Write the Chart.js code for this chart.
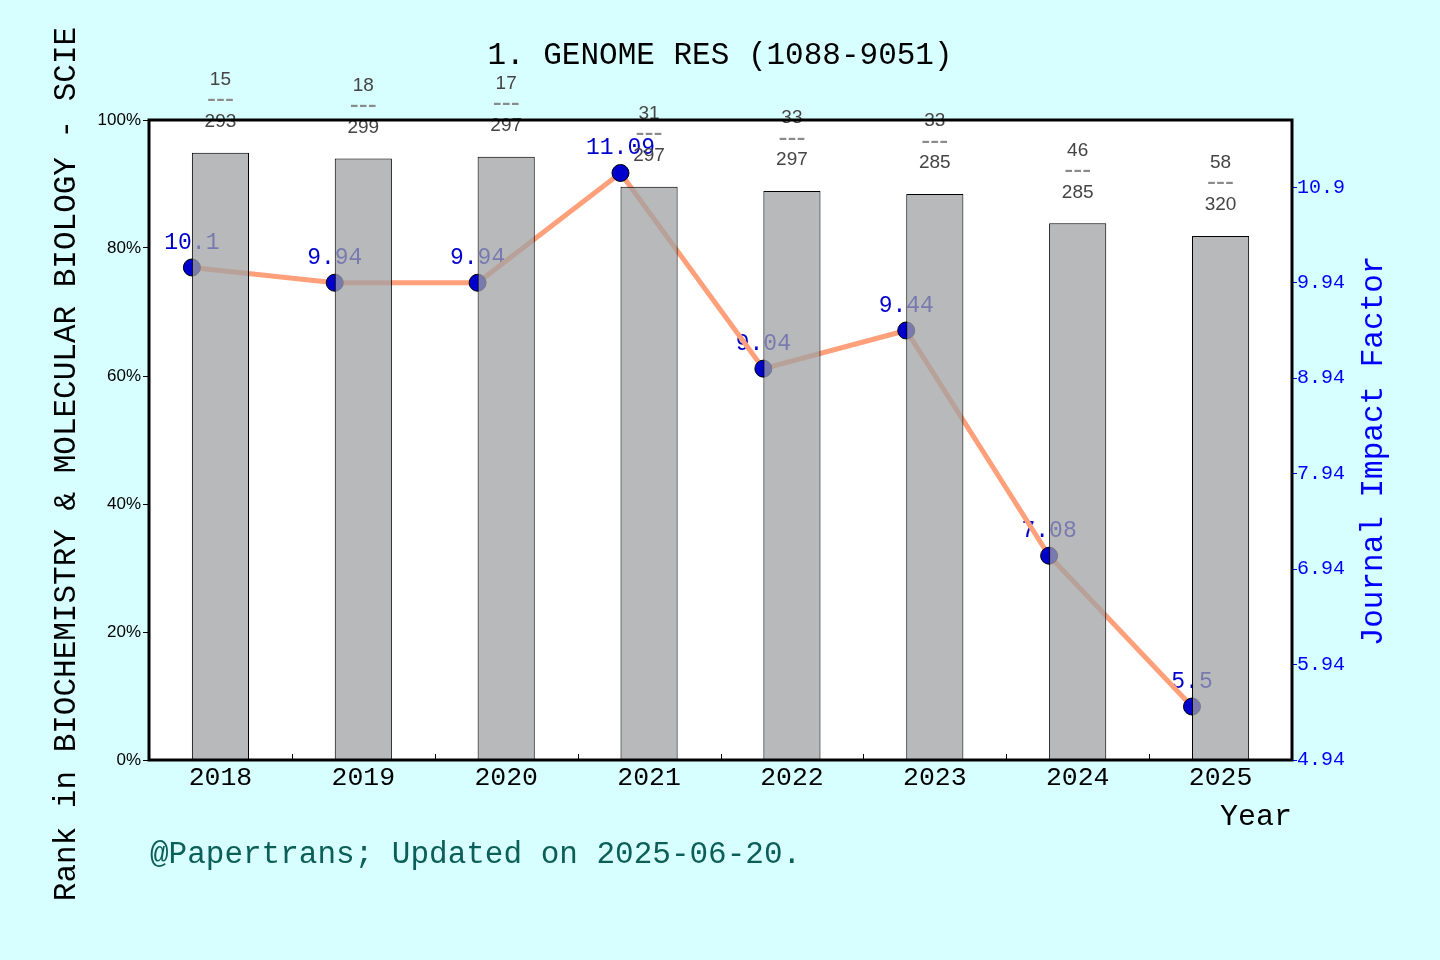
<!DOCTYPE html>
<html>
<head>
<meta charset="utf-8">
<script src="https://cdn.jsdelivr.net/npm/chart.js@4"></script>
<style>
  html, body { margin: 0; padding: 0; background: #d8ffff; }
  canvas { display: block; }
</style>
</head>
<body>
<canvas id="jcr" width="1440" height="960"></canvas>
<script>
// data
var years = ['2018', '2019', '2020', '2021', '2022', '2023', '2024', '2025']
var ranks = [15, 18, 17, 31, 33, 33, 46, 58]
var totals = [293, 299, 297, 297, 297, 285, 285, 320]
var impactFactor = [10.1, 9.94, 9.94, 11.09, 9.04, 9.44, 7.08, 5.5]
var rightTicks = [4.94, 5.94, 6.94, 7.94, 8.94, 9.94, 10.94]
var rightTickLabels = ['4.94', '5.94', '6.94', '7.94', '8.94', '9.94', '10.9']
var leftTicks = [0, 20, 40, 60, 80, 100]

var MONO = '"Liberation Mono", "DejaVu Sans Mono", monospace'
var SANS = '"Liberation Sans", Arial, sans-serif'

// percentile of the rank in its category
var rankPct = ranks.map((r, i) => (1 - r / totals[i]) * 100)
var barFrac = 0.4
var linePoints = impactFactor.map((v, i) => ({ x: i - barFrac / 2, y: v }))

//decoration plugin: backgrounds, labels, frame, titles
var deco = {
   id: 'deco',
   beforeDraw(chart) {
      const c = chart.ctx, a = chart.chartArea
      c.save()
      c.fillStyle = '#d8ffff'
      c.fillRect(0, 0, chart.width, chart.height)
      c.fillStyle = '#ffffff'
      c.fillRect(a.left, a.top, a.right - a.left, a.bottom - a.top)
      c.restore()
   },
   beforeDatasetsDraw(chart) {
      // IF values sit under the translucent bars
      const c = chart.ctx
      const meta = chart.getDatasetMeta(1)
      c.save()
      c.font = '23px ' + MONO
      c.fillStyle = '#0000cc'
      c.textAlign = 'center'
      c.textBaseline = 'middle'
      meta.data.forEach((p, i) => {
         c.fillText(String(impactFactor[i]), p.x, p.y - 25)
      })
      c.restore()
   },
   afterDatasetsDraw(chart) {
      const c = chart.ctx, a = chart.chartArea
      const xs = chart.scales.x
      c.save()
      // rank / total above each bar
      const bars = chart.getDatasetMeta(0).data
      c.textAlign = 'center'
      c.textBaseline = 'middle'
      bars.forEach((b, i) => {
         c.font = '19px ' + SANS
         c.fillStyle = '#444444'
         c.fillText(String(ranks[i]), b.x, b.y - 73)
         c.fillText(String(totals[i]), b.x, b.y - 31)
         c.font = '27px ' + SANS
         c.fillStyle = '#8a8a8a'
         c.fillText('---', b.x, b.y - 53)
      })
      // small inward ticks between categories
      c.strokeStyle = '#000'
      c.lineWidth = 1
      for (let i = 1; i < years.length; i++) {
         const x = Math.round((xs.getPixelForValue(i - 1) + xs.getPixelForValue(i)) / 2) + 0.5
         c.beginPath()
         c.moveTo(x, a.bottom)
         c.lineTo(x, a.bottom - 6)
         c.stroke()
      }
      // frame
      c.lineWidth = 3
      c.strokeRect(a.left, a.top, a.right - a.left, a.bottom - a.top)
      c.restore()
   },
   afterDraw(chart) {
      const c = chart.ctx, a = chart.chartArea
      c.save()
      c.textBaseline = 'middle'
      c.font = '31px ' + MONO
      c.fillStyle = '#000'
      c.textAlign = 'center'
      c.fillText('1. GENOME RES (1088-9051)', 720, 56)
      c.font = '30px ' + MONO
      c.textAlign = 'right'
      c.fillText('Year', a.right, 817)
      c.textAlign = 'left'
      c.font = '31px ' + MONO
      c.fillStyle = '#0b5f58'
      c.fillText('@Papertrans; Updated on 2025-06-20.', 150, 855)
      // rotated axis titles
      c.translate(67, 464)
      c.rotate(-Math.PI / 2)
      c.textAlign = 'center'
      c.fillStyle = '#000'
      c.fillText('Rank in BIOCHEMISTRY & MOLECULAR BIOLOGY - SCIE', 0, 0)
      c.setTransform(1, 0, 0, 1, 0, 0)
      c.translate(1374, 451)
      c.rotate(-Math.PI / 2)
      c.fillStyle = '#0000ff'
      c.fillText('Journal Impact Factor', 0, 0)
      c.restore()
   }
}

var ctx = document.getElementById('jcr').getContext('2d')
var jcrChart = new Chart(ctx, {
   type: 'bar',
   data: {
      labels: years,
      datasets: [{
         type: 'bar',
         label: 'Rank',
         data: rankPct,
         yAxisID: 'y',
         xAxisID: 'x',
         backgroundColor: 'rgba(160, 161, 164, 0.75)',
         borderColor: '#000',
         borderWidth: 1,
         borderSkipped: 'bottom',
         grouped: false,
         barPercentage: barFrac,
         categoryPercentage: 1,
         order: 0
      }, {
         type: 'line',
         label: 'IF',
         data: linePoints,
         yAxisID: 'y2',
         xAxisID: 'xl',
         borderColor: '#ffa07a',
         borderWidth: 5,
         tension: 0,
         pointRadius: 8.5,
         pointBackgroundColor: '#0000cc',
         pointBorderColor: '#000',
         pointBorderWidth: 1,
         order: 1
      }]
   },
   options: {
      responsive: false,
      animation: false,
      layout: { padding: { top: 120, left: 0, right: 0, bottom: 0 } },
      plugins: {
         legend: { display: false },
         tooltip: { enabled: false }
      },
      scales: {
         x: {
            type: 'category',
            offset: true,
            grid: { display: false },
            border: { display: false },
            ticks: { color: '#000', font: { family: MONO, size: 26.5 }, padding: -6 },
            afterFit(s) { s.height = 200 }
         },
         xl: {
            type: 'linear',
            display: false,
            offset: false,
            grid: { offset: false },
            min: -0.5,
            max: years.length - 0.5
         },
         y: {
            position: 'left',
            min: 0,
            max: 100,
            afterBuildTicks(s) { s.ticks = leftTicks.map(v => ({ value: v })) },
            grid: { drawOnChartArea: false, color: '#000', tickLength: 6 },
            border: { display: false },
            ticks: {
               color: '#000',
               font: { family: SANS, size: 17 },
               padding: 2,
               callback: v => v + '%'
            },
            afterFit(s) { s.width = 149 }
         },
         y2: {
            position: 'right',
            min: 4.94,
            max: 11.645,
            afterBuildTicks(s) { s.ticks = rightTicks.map(v => ({ value: v })) },
            grid: { drawOnChartArea: false, color: '#0000ff', tickLength: 5 },
            border: { display: false },
            ticks: {
               color: '#0000ff',
               font: { family: MONO, size: 20 },
               padding: 0,
               callback: (v, i) => rightTickLabels[i]
            },
            afterFit(s) { s.width = 148 }
         }
      }
   },
   plugins: [deco]
});
</script>
</body>
</html>
